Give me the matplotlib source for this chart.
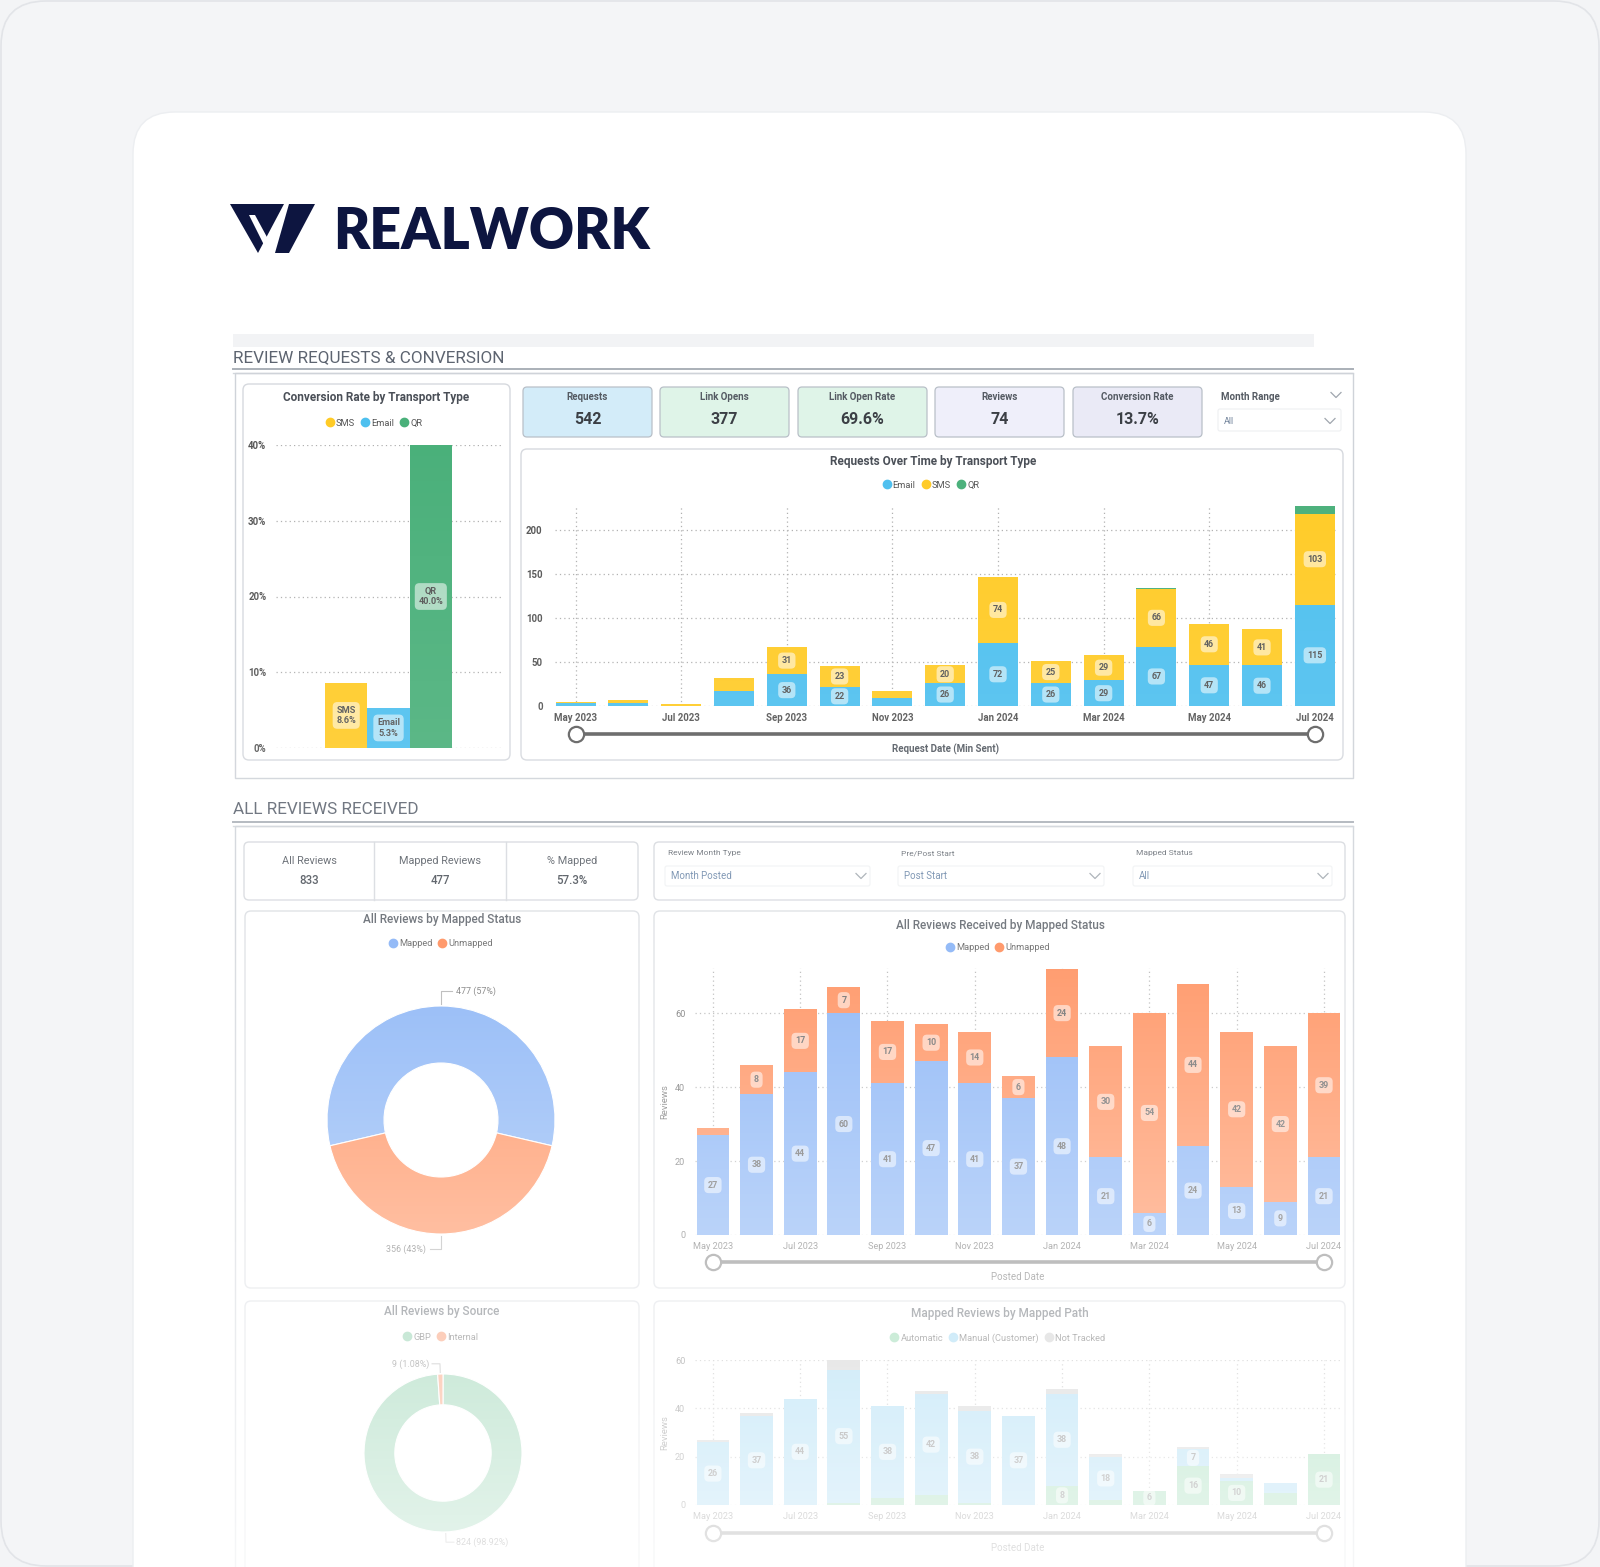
import numpy as np
import matplotlib.pyplot as plt
from matplotlib.patches import FancyBboxPatch, Rectangle, Polygon, Ellipse
from matplotlib.lines import Line2D

plt.rcParams['font.family'] = ['Roboto', 'DejaVu Sans']

W, H = 1600, 1567

# ---------------- data ----------------
transport = ['SMS', 'Email', 'QR']
conv_rate = [8.6, 5.3, 40.0]

kpi_titles = ['Requests', 'Link Opens', 'Link Open Rate', 'Reviews', 'Conversion Rate']
kpi_values = ['542', '377', '69.6%', '74', '13.7%']

months = ['May 2023', 'Jun 2023', 'Jul 2023', 'Aug 2023', 'Sep 2023', 'Oct 2023', 'Nov 2023',
          'Dec 2023', 'Jan 2024', 'Feb 2024', 'Mar 2024', 'Apr 2024', 'May 2024', 'Jun 2024',
          'Jul 2024']
req_email = [3, 3, 0, 17, 36, 22, 9, 26, 72, 26, 29, 67, 47, 46, 115]
req_sms = [2, 4, 2, 15, 31, 23, 8, 20, 74, 25, 29, 66, 46, 41, 103]
req_qr = [0, 0, 0, 0, 0, 0, 0, 0, 0, 0, 0, 1, 0, 0, 9]

review_kpi_titles = ['All Reviews', 'Mapped Reviews', '% Mapped']
review_kpi_values = ['833', '477', '57.3%']

slicer_titles = ['Review Month Type', 'Pre/Post Start', 'Mapped Status']
slicer_values = ['Month Posted', 'Post Start', 'All']

status_labels = ['Mapped', 'Unmapped']
status_totals = [477, 356]
rev_mapped = [27, 38, 44, 60, 41, 47, 41, 37, 48, 21, 6, 24, 13, 9, 21]
rev_unmapped = [2, 8, 17, 7, 17, 10, 14, 6, 24, 30, 54, 44, 42, 42, 39]

source_labels = ['GBP', 'Internal']
source_totals = [824, 9]

path_labels = ['Automatic', 'Manual (Customer)', 'Not Tracked']
path_auto = [0, 0, 0, 1, 3, 4, 1, 0, 8, 2, 6, 16, 10, 5, 21]
path_manual = [26, 37, 44, 55, 38, 42, 38, 37, 38, 18, 0, 7, 1, 4, 0]
path_nt = [1, 1, 0, 4, 0, 1, 2, 0, 2, 1, 0, 1, 2, 0, 0]

# colours
EMAIL, SMS, QR = '#4ec0ef', '#ffcb26', '#4ab07a'
MAPPED, UNMAPPED = '#78a9f5', '#ff8046'
GBP, INTERNAL = '#7cc89e', '#f8895a'
AUTO, MANUAL, NOTTR = '#83d2a2', '#8fd1f1', '#c5c5c5'
TXT = '#4a4f57'

# ---------------- figure / helpers ----------------
fig = plt.figure(figsize=(W / 100, H / 100), dpi=100)
fig.patch.set_facecolor('#f3f4f6')
bg = fig.add_axes([0, 0, 1, 1], zorder=0)
bg.set_xlim(0, W)
bg.set_ylim(H, 0)
bg.axis('off')


def box(x0, y0, x1, y1, fc='white', ec='#d6d9de', lw=1.0, r=6, z=1):
    bg.add_patch(FancyBboxPatch((x0, y0), x1 - x0, y1 - y0,
                                boxstyle=f'round,pad=0,rounding_size={r}',
                                fc=fc, ec=ec, lw=lw, zorder=z))


def txt(x, y, s, size=8, color=TXT, weight='normal', ha='center', va='center', **kw):
    bg.text(x, y, s, fontsize=size, color=color, fontweight=weight, ha=ha, va=va, zorder=5, **kw)


def chevron(x, y, color='#a0a6ae'):
    bg.plot([x - 5, x, x + 5], [y - 2.5, y + 2.5, y - 2.5], color=color, lw=0.9, zorder=5)


def px_axes(x0, y0, x1, y1, z=2):
    ax = fig.add_axes([x0 / W, 1 - y1 / H, (x1 - x0) / W, (y1 - y0) / H], zorder=z)
    ax.patch.set_alpha(0)
    return ax


def dot_legend(cx, cy, labels, colors, size=6.7):
    handles = [Line2D([], [], marker='o', ls='', ms=6, mfc=c, mec=c) for c in colors]
    leg = fig.legend(handles, labels, loc='center', bbox_to_anchor=(cx / W, 1 - cy / H),
                     ncol=len(labels), frameon=False, fontsize=size, handletextpad=0.25,
                     columnspacing=0.7, handlelength=0.8, borderpad=0, labelcolor='#555555')
    leg.set_zorder(5)


def chart_axes(x0, y0, x1, y1, xlim, ylim, yticks, ylabels, xticks=(), xlabels=(), ypad=6, xpad=4,
               weight='bold', tcolor='#555555', tsize=6.9):
    ax = px_axes(x0, y0, x1, y1)
    ax.set_xlim(*xlim)
    ax.set_ylim(*ylim)
    for s in ax.spines.values():
        s.set_visible(False)
    ax.set_yticks(yticks)
    ax.set_yticklabels(ylabels)
    ax.set_xticks(list(xticks))
    ax.set_xticklabels(list(xlabels))
    ax.tick_params(length=0, labelsize=tsize, labelcolor=tcolor)
    ax.tick_params(axis='y', pad=ypad)
    ax.tick_params(axis='x', pad=xpad)
    for lab in ax.get_xticklabels() + ax.get_yticklabels():
        lab.set_fontweight(weight)
    ax.grid(True, ls=(0, (1, 2.5)), color='#b0b0b0', lw=0.9)
    ax.set_axisbelow(True)
    return ax


def seg_label(ax, x, y, s, size=6.4):
    ax.text(x, y, s, ha='center', va='center', fontsize=size, color='#555555', fontweight='bold',
            bbox=dict(boxstyle='round,pad=0.4,rounding_size=0.5', fc='white', ec='none', alpha=0.55))


def stack_labels(ax, xs, bottoms, vals, minv):
    for xi, b, v in zip(xs, bottoms, vals):
        if v >= minv:
            seg_label(ax, xi, b + v / 2, str(v))


def slider(ax, x0, x1, yfrac, color):
    tr = ax.get_xaxis_transform()
    ax.plot([x0, x1], [yfrac, yfrac], transform=tr, color=color, lw=2.6, clip_on=False)
    ax.plot([x0, x1], [yfrac, yfrac], transform=tr, ls='', marker='o', ms=11, mfc='white',
            mec=color, mew=1.6, clip_on=False)


def donut(cx, cy, r, vals, colors, width, start, sides, fmt):
    ax = px_axes(cx - r - 30, cy - r - 30, cx + r + 30, cy + r + 30)
    wedges, _ = ax.pie(vals, colors=colors, startangle=start, counterclock=False, radius=1,
                       wedgeprops=dict(width=width, edgecolor='white', linewidth=0.8))
    lim = (r + 30) / r
    ax.set_xlim(-lim, lim)
    ax.set_ylim(-lim, lim)
    total = sum(vals)
    for w, v, side in zip(wedges, vals, sides):
        th = np.deg2rad((w.theta1 + w.theta2) / 2)
        p1 = np.array([np.cos(th), np.sin(th)]) * 1.02
        p2 = np.array([np.cos(th), np.sin(th)]) * 1.13
        p3 = p2 + np.array([0.1 * side, 0])
        ax.plot([p1[0], p2[0], p3[0]], [p1[1], p2[1], p3[1]], color='#aaaaaa', lw=0.8, clip_on=False)
        ax.text(p3[0] + 0.03 * side, p3[1], fmt(v, total), fontsize=6.4, color='#666666',
                ha='left' if side > 0 else 'right', va='center')
    return ax


# ---------------- page background ----------------
bg.add_patch(FancyBboxPatch((1, 1), W - 2, H - 2, boxstyle='round,pad=0,rounding_size=45',
                            fc='#f4f5f7', ec='#e2e4e8', lw=1.2, zorder=0))
for i in range(8):
    bg.add_patch(Ellipse((800, 760), 1580 - i * 45, 1250 - i * 45, fc='white', ec='none',
                         alpha=0.07, zorder=0))
box(133, 112, 1466, 1640, fc='white', ec='#eceef1', lw=1, r=42, z=0.5)

# logo
NAVY = '#0d1540'
bg.add_patch(Polygon([(230, 204), (284, 204), (258, 253)], closed=True, fc=NAVY, ec='none', zorder=2))
bg.add_patch(Polygon([(249, 215), (255, 215), (268, 239), (264, 245)], closed=True, fc='white', ec='none', zorder=3))
bg.add_patch(Polygon([(289, 204), (315, 204), (289, 253), (275, 253)], closed=True, fc=NAVY, ec='none', zorder=2))
txt(333, 232, 'REALWORK', size=40, color=NAVY, weight='heavy', ha='left',
    family=['Lato', 'DejaVu Sans'])

# ---------------- section 1 ----------------
bg.add_patch(Rectangle((233, 334), 1081, 13, fc='#f2f3f5', ec='none', zorder=1))
txt(233, 358, 'REVIEW REQUESTS & CONVERSION', size=12.3, color='#5d6470', ha='left')
bg.plot([233, 1353], [369, 369], color='#aab0b8', lw=1.4, zorder=2)
bg.plot([233, 1353], [373, 373], color='#d3d7dc', lw=1.0, zorder=2)
bg.add_patch(Rectangle((235, 373), 1118, 405, fc='none', ec='#cfd3d9', lw=1.0, zorder=2))

# left card: conversion rate
box(243, 384, 510, 760, ec='#d6d9de', r=6, z=1)
txt(376, 397, 'Conversion Rate by Transport Type', size=8.5, weight='bold')
dot_legend(374, 423, transport, [SMS, EMAIL, QR])
ax = chart_axes(276, 445, 504, 748, (-2.66, 2.73), (0, 40), [0, 10, 20, 30, 40],
                ['0%', '10%', '20%', '30%', '40%'], ypad=7)
xc = np.arange(len(transport)) - 1
ax.bar(xc, conv_rate, 1.0, color=[SMS, EMAIL, QR])
for xi, v, name in zip(xc, conv_rate, transport):
    seg_label(ax, xi, v / 2, f'{name}\n{v:.1f}%', size=6.6)

# KPI cards
kpi_x = [(523, 652), (660, 789), (798, 927), (935, 1064), (1073, 1202)]
kpi_fc = ['#d3ecf9', '#dff4e8', '#dff4e8', '#efeffa', '#eaeaf6']
for (x0, x1), fc, t, v in zip(kpi_x, kpi_fc, kpi_titles, kpi_values):
    box(x0, 387, x1, 437, fc=fc, ec='#b9c0c8', lw=0.9, r=4, z=1)
    txt((x0 + x1) / 2, 397, t, size=7, weight='bold', color='#555b63')
    txt((x0 + x1) / 2, 419, v, size=11.5, weight='bold', color='#3b3f45')

txt(1221, 397, 'Month Range', size=7, weight='bold', color='#555b63', ha='left')
chevron(1336, 395)
box(1218, 409, 1341, 431, fc='white', ec='#eef0f2', lw=0.8, r=2, z=1)
txt(1224, 421, 'All', size=6.5, color='#6f8199', ha='left')
chevron(1330, 421)

# requests over time
box(521, 449, 1343, 760, ec='#d6d9de', r=6, z=1)
txt(933, 462, 'Requests Over Time by Transport Type', size=8.5, weight='bold')
dot_legend(931, 485, ['Email', 'SMS', 'QR'], [EMAIL, SMS, QR])
xm = np.arange(len(months))
ax = chart_axes(555, 505, 1337, 706, (-0.39, 14.42), (0, 228), [0, 50, 100, 150, 200],
                ['0', '50', '100', '150', '200'], xm[::2], months[::2], ypad=9, xpad=5)
b2 = np.add(req_email, req_sms)
ax.bar(xm, req_email, 0.76, color=EMAIL)
ax.bar(xm, req_sms, 0.76, bottom=req_email, color=SMS)
ax.bar(xm, req_qr, 0.76, bottom=b2, color=QR)
stack_labels(ax, xm, np.zeros(len(xm)), req_email, 20)
stack_labels(ax, xm, req_email, req_sms, 20)
slider(ax, 0, 14, -0.1375, '#5f5f5f')
txt(945, 749, 'Request Date (Min Sent)', size=7, weight='bold', color='#555b63')

# ---------------- section 2 ----------------
txt(233, 809, 'ALL REVIEWS RECEIVED', size=12.3, color='#5d6470', ha='left')
bg.plot([233, 1353], [822, 822], color='#aab0b8', lw=1.4, zorder=2)
bg.plot([233, 1353], [826, 826], color='#d3d7dc', lw=1.0, zorder=2)
bg.add_patch(Rectangle((235, 826), 1118, 800, fc='none', ec='#cfd3d9', lw=1.0, zorder=2))

# review KPI table
box(244, 842, 638, 900, ec='#d6d9de', r=5, z=1)
cells = [(244, 374), (374, 506), (506, 638)]
for x in (374, 506):
    bg.plot([x, x], [842, 900], color='#d6d9de', lw=1, zorder=2)
for (x0, x1), t, v in zip(cells, review_kpi_titles, review_kpi_values):
    txt((x0 + x1) / 2, 861, t, size=7.8, color='#555b63')
    txt((x0 + x1) / 2, 880, v, size=8.3, color='#444a52', weight='medium')

# slicers
box(654, 842, 1345, 900, ec='#d6d9de', r=5, z=1)
for x0, x1, t, v in zip([665, 898, 1133], [870, 1104, 1332], slicer_titles, slicer_values):
    txt(x0 + 3, 853, t, size=6, color='#666c74', ha='left')
    box(x0, 866, x1, 886, fc='white', ec='#f0f1f3', lw=0.8, r=2, z=1)
    txt(x0 + 6, 876, v, size=7, color='#6a86a8', ha='left')
    chevron(x1 - 9, 876)

# donut: mapped status
box(245, 911, 639, 1288, ec='#dadde2', r=6, z=1)
txt(442, 920, 'All Reviews by Mapped Status', size=8.5, weight='medium', color='#555b63')
dot_legend(441, 944, status_labels, [MAPPED, UNMAPPED])
donut(441, 1120, 114, status_totals, [MAPPED, UNMAPPED], 0.5,
      90 + 180 * status_totals[0] / sum(status_totals), [1, -1],
      lambda v, t: f'{v} ({v / t:.0%})')

# reviews by mapped status
box(654, 911, 1345, 1288, ec='#dadde2', r=6, z=1)
txt(1000, 925, 'All Reviews Received by Mapped Status', size=8.5, weight='medium', color='#555b63')
dot_legend(998, 948, status_labels, [MAPPED, UNMAPPED])
ax = chart_axes(695, 968, 1341, 1235, (-0.41, 14.39), (0, 72.2), [0, 20, 40, 60],
                ['0', '20', '40', '60'], xm[::2], months[::2], ypad=7, xpad=5,
                weight='normal', tcolor='#666666', tsize=6.6)
ax.bar(xm, rev_mapped, 0.75, color=MAPPED)
ax.bar(xm, rev_unmapped, 0.75, bottom=rev_mapped, color=UNMAPPED)
stack_labels(ax, xm, np.zeros(len(xm)), rev_mapped, 5)
stack_labels(ax, xm, rev_mapped, rev_unmapped, 5)
slider(ax, 0, 14, -0.1, '#7a7a7a')
txt(665, 1102, 'Reviews', size=6.8, color='#666666', rotation=90)
txt(1018, 1277, 'Posted Date', size=7, color='#666666')

# donut: source
box(245, 1301, 639, 1640, ec='#dadde2', r=6, z=1)
txt(442, 1312, 'All Reviews by Source', size=8.5, weight='medium', color='#555b63')
dot_legend(441, 1337, source_labels, [GBP, INTERNAL])
donut(443, 1453, 79, source_totals, [GBP, INTERNAL], 0.39, 90, [1, -1],
      lambda v, t: f'{v} ({v / t * 100:.2f}%)')

# mapped path
box(654, 1301, 1345, 1640, ec='#dadde2', r=6, z=1)
txt(1000, 1314, 'Mapped Reviews by Mapped Path', size=8.5, weight='medium', color='#555b63')
dot_legend(998, 1338, path_labels, [AUTO, MANUAL, NOTTR])
ax = chart_axes(695, 1360, 1341, 1505, (-0.41, 14.39), (0, 60), [0, 20, 40, 60],
                ['0', '20', '40', '60'], xm[::2], months[::2], ypad=7, xpad=5,
                weight='normal', tcolor='#666666', tsize=6.6)
bm = np.add(path_auto, path_manual)
ax.bar(xm, path_auto, 0.75, color=AUTO)
ax.bar(xm, path_manual, 0.75, bottom=path_auto, color=MANUAL)
ax.bar(xm, path_nt, 0.75, bottom=bm, color=NOTTR)
stack_labels(ax, xm, np.zeros(len(xm)), path_auto, 6)
stack_labels(ax, xm, path_auto, path_manual, 6)
slider(ax, 0, 14, -0.193, '#7a7a7a')
txt(665, 1433, 'Reviews', size=6.8, color='#666666', rotation=90)
txt(1018, 1548, 'Posted Date', size=7, color='#666666')

# ---------------- fade towards the bottom ----------------
ov = fig.add_axes([0, 0, 1, 1], zorder=60)
ov.axis('off')
ys = np.arange(430, H)
alpha = np.interp(ys, [430, 750, 920, 1312, 1567], [0, 0.1, 0.19, 0.57, 0.82])
grad = np.ones((len(ys), 1, 4))
grad[:, 0, 3] = alpha
ov.imshow(grad, extent=(134, 1465, H, 430), origin='upper', aspect='auto', interpolation='bilinear')
ov.set_xlim(0, W)
ov.set_ylim(H, 0)

fig.savefig('out.png', dpi=100, facecolor=fig.get_facecolor())
